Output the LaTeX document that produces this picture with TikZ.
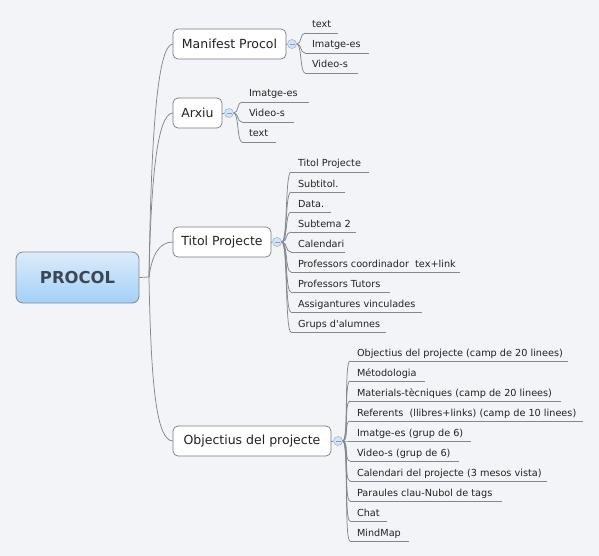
\documentclass[tikz,border=0pt]{standalone}
\usepackage{fontspec}
\newfontfamily\mf{DejaVu Sans}
\definecolor{bgc}{HTML}{F3F4F7}
\definecolor{linec}{HTML}{83878E}
\definecolor{boxc}{HTML}{767B82}
\definecolor{txt}{HTML}{222222}
\definecolor{roottxt}{HTML}{3C4756}
\definecolor{rootb}{HTML}{7E8A96}
\definecolor{roottop}{HTML}{DDEBFA}
\definecolor{rootbot}{HTML}{A3D0F7}
\definecolor{dotb}{HTML}{9CB8D8}
\definecolor{dotf}{HTML}{D3E4F6}
\definecolor{dotm}{HTML}{7F9FC8}
\tikzset{
  rootbox/.style={draw=rootb, line width=0.8pt, rounded corners=7pt, top color=roottop, bottom color=rootbot,
    minimum width=123pt, minimum height=51pt, inner sep=0pt, font=\mf\bfseries\fontsize{16.4}{18}\selectfont, text=roottxt},
  mainbox/.style={draw=boxc, line width=0.7pt, fill=white, rounded corners=5pt, minimum height=30pt,
    inner sep=2pt, outer sep=0pt, anchor=west, font=\mf\fontsize{12.5}{14}\selectfont, text=txt},
  dotc/.style={circle, draw=dotb, fill=dotf, line width=0.6pt, minimum size=9pt, inner sep=0pt,
    path picture={\draw[dotm, line width=0.6pt] ([xshift=-2.5pt]path picture bounding box.center) -- ([xshift=2.5pt]path picture bounding box.center);}},
  leaf/.style={anchor=base west, inner xsep=7pt, inner ysep=0pt, outer sep=0pt, font=\mf\fontsize{9.7}{11}\selectfont, text=txt},
  br/.style={draw=linec, line width=0.75pt},
  ul/.style={draw=linec, line width=0.75pt}
}
\begin{document}
\begin{tikzpicture}[x=1pt, y=-1pt]
\useasboundingbox (0,0) rectangle (599,556);
\fill[bgc] (0,0) rectangle (599,556);

% root
\node[rootbox] (root) at (77.5,277.5) {PROCOL};
\coordinate (tr) at (149,277);
\draw[br] (root.east) -- (tr);

% main branches
\node[mainbox, minimum width=113pt] (m1) at (173,44) {Manifest Procol};
\node[mainbox, minimum width=49pt] (m2) at (173,113) {Arxiu};
\node[mainbox, minimum width=98pt] (m3) at (173,242) {Titol Projecte};
\node[mainbox, minimum width=158pt] (m4) at (173,441) {Objectius del projecte};

\draw[br] (tr) .. controls (151,140) and (157,44) .. (m1.west);
\draw[br] (tr) .. controls (151,180) and (157,113) .. (m2.west);
\draw[br] (tr) .. controls (152,255) and (159,242) .. (m3.west);
\draw[br] (tr) .. controls (151,390) and (157,441) .. (m4.west);

% collapse dots
\node[dotc] (d1) at (292,44) {};
\node[dotc] (d2) at (229,113) {};
\node[dotc] (d3) at (277,242) {};
\node[dotc] (d4) at (338,441) {};
\draw[br] (m1.east) -- (d1.west);
\draw[br] (m2.east) -- (d2.west);
\draw[br] (m3.east) -- (d3.west);
\draw[br] (m4.east) -- (d4.west);

% Manifest Procol children
\node[leaf] (a1) at (305,28) {text};
\node[leaf] (a2) at (305,48) {Imatge-es};
\node[leaf] (a3) at (305,68) {Video-s};
\foreach \n/\l in {a1/33,a2/64,a3/53}{
  \draw[ul] ([yshift=-5pt]\n.base west) -- ++(\l,0);
  \draw[br] (d1.east) .. controls +(5,0) and +(-5,0) .. ([yshift=-5pt]\n.base west);
}

% Arxiu children
\node[leaf] (b1) at (242,97) {Imatge-es};
\node[leaf] (b2) at (242,117) {Video-s};
\node[leaf] (b3) at (242,137) {text};
\foreach \n/\l in {b1/67,b2/52,b3/34}{
  \draw[ul] ([yshift=-5pt]\n.base west) -- ++(\l,0);
  \draw[br] (d2.east) .. controls +(5,0) and +(-5,0) .. ([yshift=-5pt]\n.base west);
}

% Titol Projecte children
\node[leaf] (c1) at (291,167) {Titol Projecte};
\node[leaf] (c2) at (291,187) {Subtitol.};
\node[leaf] (c3) at (291,207) {Data.};
\node[leaf] (c4) at (291,227) {Subtema 2};
\node[leaf] (c5) at (291,247) {Calendari};
\node[leaf] (c6) at (291,267) {Professors coordinador\ \ tex+link};
\node[leaf] (c7) at (291,287) {Professors Tutors};
\node[leaf] (c8) at (291,307) {Assigantures vinculades};
\node[leaf] (c9) at (291,327) {Grups d'alumnes};
\foreach \n/\l in {c1/78,c2/54,c3/40,c4/65,c5/54,c6/169,c7/99,c8/131,c9/95}{
  \draw[ul] ([yshift=-5pt]\n.base west) -- ++(\l,0);
  \draw[br] (d3.east) .. controls +(6,0) and +(-6,0) .. ([yshift=-5pt]\n.base west);
}

% Objectius del projecte children
\node[leaf] (e1) at (350,356) {Objectius del projecte (camp de 20 linees)};
\node[leaf] (e2) at (350,376) {Métodologia};
\node[leaf] (e3) at (350,396) {Materials-tècniques (camp de 20 linees)};
\node[leaf] (e4) at (350,416) {Referents\ \ (llibres+links) (camp de 10 linees)};
\node[leaf] (e5) at (350,436) {Imatge-es (grup de 6)};
\node[leaf] (e6) at (350,456) {Video-s (grup de 6)};
\node[leaf] (e7) at (350,476) {Calendari del projecte (3 mesos vista)};
\node[leaf] (e8) at (350,496) {Paraules clau-Nubol de tags};
\node[leaf] (e9) at (350,516) {Chat};
\node[leaf] (e10) at (350,536) {MindMap};
\foreach \n/\l in {e1/218,e2/75,e3/211,e4/233,e5/121,e6/109,e7/197,e8/152,e9/37,e10/59}{
  \draw[ul] ([yshift=-5pt]\n.base west) -- ++(\l,0);
  \draw[br] (d4.east) .. controls +(6,0) and +(-6,0) .. ([yshift=-5pt]\n.base west);
}
\end{tikzpicture}
\end{document}
